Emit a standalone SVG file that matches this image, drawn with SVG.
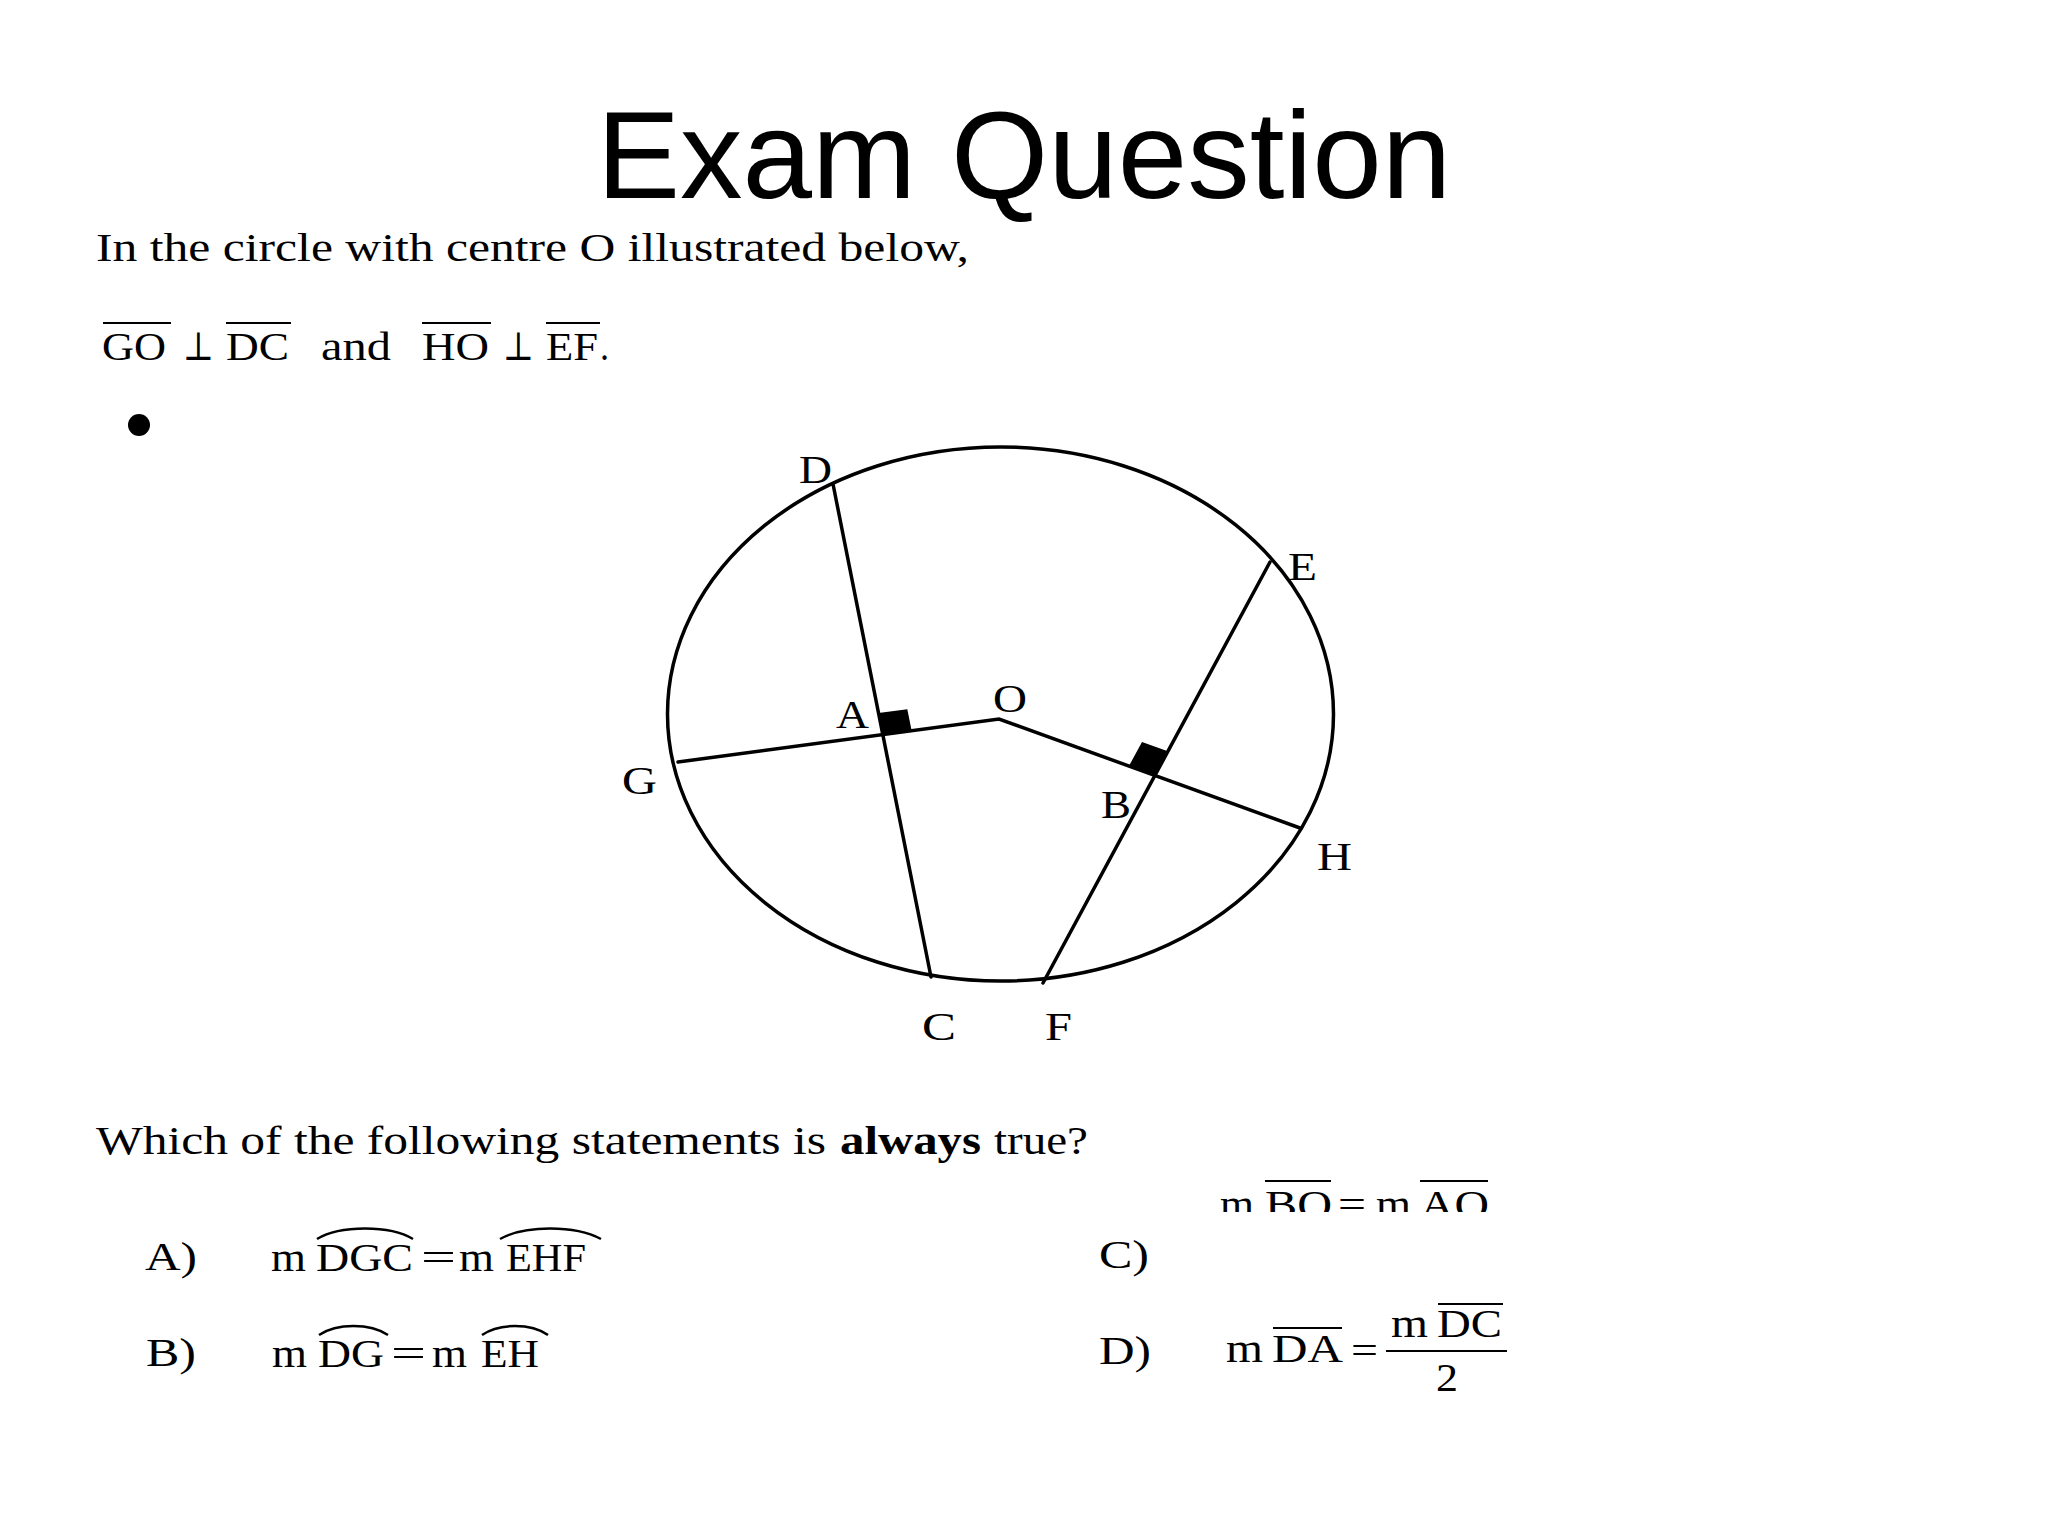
<svg xmlns="http://www.w3.org/2000/svg" width="2048" height="1536" viewBox="0 0 2048 1536">
<style>
.t{font-family:"Liberation Serif","Times New Roman",serif;font-size:40px;fill:#000}
.lb{font-family:"Liberation Serif","Times New Roman",serif;font-size:39px;fill:#000}
.sym{font-family:"Liberation Serif","DejaVu Serif",serif;font-size:40px;fill:#000}
.ttl{font-family:"Liberation Sans",Arial,sans-serif;font-size:125px;fill:#000}
.ln{stroke:#000;stroke-width:3.5;fill:none;stroke-linecap:round}
.ov{stroke:#000;stroke-width:2;fill:none}
.hat{stroke:#000;stroke-width:2.5;fill:none}
</style>
<defs>
<clipPath id="clipC"><rect x="1200" y="1160" width="320" height="52"/></clipPath>
</defs>
<rect width="2048" height="1536" fill="#fff"/>

<g id="title"><text class="ttl" x="1024" y="198" text-anchor="middle">Exam Question</text></g>

<g id="intro">
<text class="t" x="96" y="261" textLength="873" lengthAdjust="spacingAndGlyphs">In the circle with centre O illustrated below,</text>
<text class="t" x="102" y="360" textLength="64" lengthAdjust="spacingAndGlyphs">GO</text>
<line class="ov" x1="103" y1="323" x2="171" y2="323"/>
<text class="sym" x="183" y="360" textLength="31" lengthAdjust="spacingAndGlyphs">⊥</text>
<text class="t" x="226" y="360" textLength="63" lengthAdjust="spacingAndGlyphs">DC</text>
<line class="ov" x1="226" y1="323" x2="291" y2="323"/>
<text class="t" x="321" y="360" textLength="70" lengthAdjust="spacingAndGlyphs">and</text>
<text class="t" x="422" y="360" textLength="67" lengthAdjust="spacingAndGlyphs">HO</text>
<line class="ov" x1="422" y1="323" x2="491" y2="323"/>
<text class="sym" x="503" y="360" textLength="31" lengthAdjust="spacingAndGlyphs">⊥</text>
<text class="t" x="546" y="360" textLength="52" lengthAdjust="spacingAndGlyphs">EF</text>
<line class="ov" x1="546" y1="323" x2="600" y2="323"/>
<text class="t" x="600" y="360" textLength="9" lengthAdjust="spacingAndGlyphs">.</text>
</g>

<g id="bullet"><circle cx="139" cy="425" r="11" fill="#000"/></g>

<g id="circle"><ellipse class="ln" cx="1000.5" cy="714" rx="333" ry="267"/></g>

<g id="connectors">
<line class="ln" x1="833" y1="484" x2="931" y2="977"/>
<line class="ln" x1="1270" y1="562" x2="1043" y2="983"/>
<polyline class="ln" points="678,762 999,719 1300,828"/>
<polygon points="882.8,734.5 911.6,730.6 907.3,709.2 878.5,713.1" fill="#000"/>
<polygon points="1154.7,775.4 1128.9,766.1 1142.0,741.9 1167.8,751.2" fill="#000"/>
</g>

<g id="labels">
<text class="lb" x="799" y="483" textLength="33" lengthAdjust="spacingAndGlyphs">D</text>
<text class="lb" x="1288" y="580" textLength="29" lengthAdjust="spacingAndGlyphs">E</text>
<text class="lb" x="993" y="712" textLength="34" lengthAdjust="spacingAndGlyphs">O</text>
<text class="lb" x="836" y="728" textLength="33" lengthAdjust="spacingAndGlyphs">A</text>
<text class="lb" x="622" y="794" textLength="35" lengthAdjust="spacingAndGlyphs">G</text>
<text class="lb" x="1101" y="818" textLength="30" lengthAdjust="spacingAndGlyphs">B</text>
<text class="lb" x="1317" y="870" textLength="35" lengthAdjust="spacingAndGlyphs">H</text>
<text class="lb" x="922" y="1040" textLength="34" lengthAdjust="spacingAndGlyphs">C</text>
<text class="lb" x="1045" y="1040" textLength="27" lengthAdjust="spacingAndGlyphs">F</text>
</g>

<g id="question">
<text class="t" x="96" y="1154" textLength="730" lengthAdjust="spacingAndGlyphs">Which of the following statements is</text>
<text class="t" x="840" y="1154" font-weight="bold" textLength="141" lengthAdjust="spacingAndGlyphs">always</text>
<text class="t" x="994" y="1154" textLength="94" lengthAdjust="spacingAndGlyphs">true?</text>
</g>

<g id="optA">
<text class="t" x="145" y="1270" textLength="52" lengthAdjust="spacingAndGlyphs">A)</text>
<text class="t" x="271" y="1271" textLength="35" lengthAdjust="spacingAndGlyphs">m</text>
<text class="t" x="316" y="1271" textLength="97" lengthAdjust="spacingAndGlyphs">DGC</text>
<path class="hat" d="M317,1239 C340,1225 390,1225 413,1239"/>
<text class="t" x="421" y="1271" textLength="35" lengthAdjust="spacingAndGlyphs">=</text>
<text class="t" x="459" y="1271" textLength="35" lengthAdjust="spacingAndGlyphs">m</text>
<text class="t" x="506" y="1271" textLength="80" lengthAdjust="spacingAndGlyphs">EHF</text>
<path class="hat" d="M500,1239 C525,1225 575,1225 601,1239"/>
</g>

<g id="optB">
<text class="t" x="146" y="1366" textLength="50" lengthAdjust="spacingAndGlyphs">B)</text>
<text class="t" x="272" y="1367" textLength="35" lengthAdjust="spacingAndGlyphs">m</text>
<text class="t" x="318" y="1367" textLength="66" lengthAdjust="spacingAndGlyphs">DG</text>
<path class="hat" d="M319,1335 C337,1323 370,1323 388,1335"/>
<text class="t" x="391" y="1367" textLength="35" lengthAdjust="spacingAndGlyphs">=</text>
<text class="t" x="432" y="1367" textLength="35" lengthAdjust="spacingAndGlyphs">m</text>
<text class="t" x="481" y="1367" textLength="58" lengthAdjust="spacingAndGlyphs">EH</text>
<path class="hat" d="M482,1335 C499,1323 531,1323 548,1335"/>
</g>

<g id="optC">
<text class="t" x="1099" y="1268" textLength="50" lengthAdjust="spacingAndGlyphs">C)</text>
<g clip-path="url(#clipC)">
<text class="t" x="1220" y="1218" textLength="34" lengthAdjust="spacingAndGlyphs">m</text>
<text class="t" x="1265" y="1218" textLength="67" lengthAdjust="spacingAndGlyphs">BO</text>
<text class="t" x="1338" y="1218" textLength="28" lengthAdjust="spacingAndGlyphs">=</text>
<text class="t" x="1376" y="1218" textLength="35" lengthAdjust="spacingAndGlyphs">m</text>
<text class="t" x="1420" y="1218" textLength="69" lengthAdjust="spacingAndGlyphs">AO</text>
</g>
<line class="ov" x1="1265" y1="1181" x2="1331" y2="1181"/>
<line class="ov" x1="1420" y1="1181" x2="1488" y2="1181"/>
</g>

<g id="optD">
<text class="t" x="1099" y="1364" textLength="52" lengthAdjust="spacingAndGlyphs">D)</text>
<text class="t" x="1226" y="1362" textLength="37" lengthAdjust="spacingAndGlyphs">m</text>
<text class="t" x="1272" y="1362" textLength="71" lengthAdjust="spacingAndGlyphs">DA</text>
<line class="ov" x1="1273" y1="1328" x2="1342" y2="1328"/>
<text class="t" x="1351" y="1364" textLength="27" lengthAdjust="spacingAndGlyphs">=</text>
<line class="ov" x1="1386" y1="1351" x2="1507" y2="1351"/>
<text class="t" x="1391" y="1337" textLength="37" lengthAdjust="spacingAndGlyphs">m</text>
<text class="t" x="1437" y="1337" textLength="65" lengthAdjust="spacingAndGlyphs">DC</text>
<line class="ov" x1="1438" y1="1304" x2="1503" y2="1304"/>
<text class="t" x="1436" y="1391" textLength="22" lengthAdjust="spacingAndGlyphs">2</text>
</g>
</svg>
